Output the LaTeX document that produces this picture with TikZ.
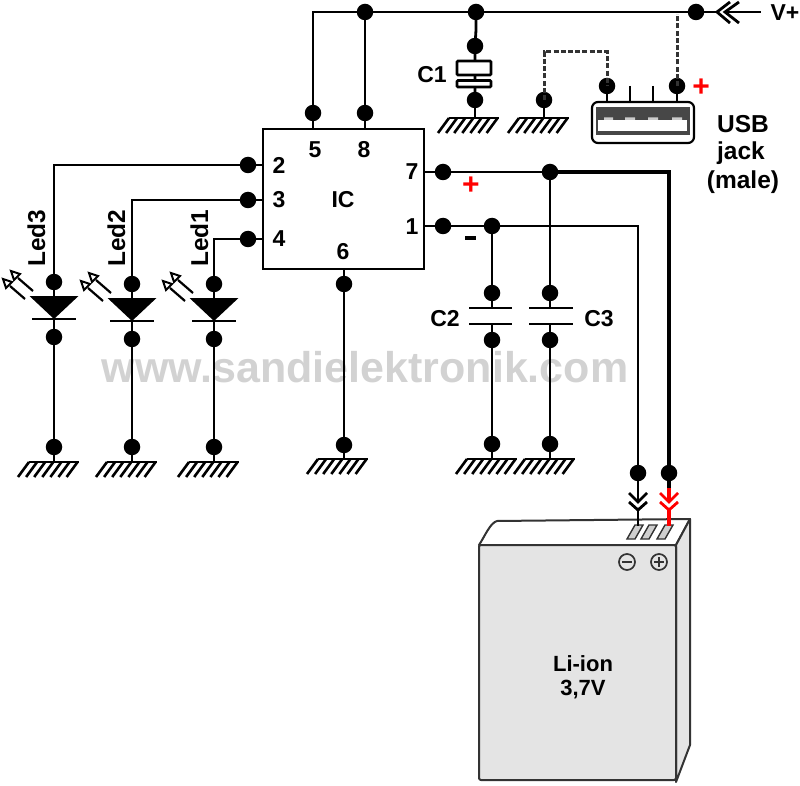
\documentclass[tikz,border=0pt]{standalone}
\usepackage{fontspec}
\setmainfont{Liberation Sans}
\usetikzlibrary{calc}
\definecolor{batt}{HTML}{E4E4E4}
\definecolor{slot}{HTML}{CFCFCF}
\definecolor{edge}{HTML}{333333}
\definecolor{wmark}{HTML}{D2D2D2}
\tikzset{
  wire/.style={line width=2.8pt,line join=miter},
  heavywire/.style={line width=3.2pt,line join=miter},
  dashwire/.style={line width=3pt,dash pattern=on 5pt off 2.2pt,draw=black!80},
  jdot/.style={circle,fill=black,draw=none,minimum size=16.5pt,inner sep=0pt},
  lab/.style={font=\fontsize{23}{26}\selectfont\bfseries,inner sep=0pt,align=center},
  biglab/.style={font=\fontsize{24.5}{28}\selectfont\bfseries,inner sep=0pt,align=center},
  batlab/.style={font=\fontsize{22}{25}\selectfont\bfseries,inner sep=0pt,align=center},
  pinlab/.style={font=\fontsize{23}{26}\selectfont\bfseries,inner sep=0pt},
  ledlab/.style={font=\fontsize{24.4}{28}\selectfont\bfseries,inner sep=0pt,rotate=90,anchor=base west},
  plate/.style={line width=2.9pt},
  chev/.style={line width=2.8pt},
  lightarrow/.style={line width=2.2pt},
  lighthead/.style={line width=2pt,fill=white,line join=miter},
  bat/.style={line width=2pt,draw=edge,line join=round},
  redsign/.style={text=red,font=\fontsize{30}{30}\selectfont\bfseries,inner sep=0pt},
}
\newcommand{\gndsym}[3]{% name, x, y
  \coordinate (#1) at (#2,#3);
  \draw[line width=2.8pt] ($(#1)+(-25,0)$) -- ($(#1)+(25,0)$);
  \foreach \k in {0,...,6} {
    \draw[line width=2.6pt] ($(#1)+(-25+8.1*\k,0)$) -- ++(-11,15);
  }
}
\newcommand{\ledsym}[4]{% name, x, triangle top y, bar y
  \path[fill=black] (#2-24.5,#3) -- (#2+24.5,#3) -- (#2,#4) -- cycle;
  \draw[plate] (#2-22,#4) -- (#2+22,#4);
  \coordinate (#1) at (#2,#3);
  \foreach \d in {0,8} {
    \draw[lightarrow] (#2-29+\d,#3+3-\d) -- (#2-44+\d,#3-10-\d);
    \draw[lighthead] (#2-51+\d,#3-17-\d) -- (#2-42+\d,#3-14-\d) -- (#2-48+\d,#3-8-\d) -- cycle;
  }
}
\begin{document}
\begin{tikzpicture}[x=1pt,y=-1pt]
\useasboundingbox (0,0) rectangle (800,786);

% Watermark (lies under everything else)
\node[inner sep=0pt,text=wmark,anchor=base,font=\fontsize{43}{46}\selectfont\bfseries] (wm) at (365,382) {www.sandielektronik.com};

% IC
\node[draw=black,line width=2.8pt,minimum width=161pt,minimum height=140pt,inner sep=0pt,fill=white] (ic) at (343.5,199) {};
\node[lab] (iclab) at (343,200) {IC};
\node[pinlab] (p5) at (315,150) {5};
\node[pinlab] (p8) at (364,150) {8};
\node[pinlab] (p2) at (279,165) {2};
\node[pinlab] (p3) at (279,200) {3};
\node[pinlab] (p4) at (279,239) {4};
\node[pinlab] (p7) at (412,172) {7};
\node[pinlab] (p1) at (412,227) {1};
\node[pinlab] (p6) at (343,252) {6};

% Dots
\foreach \n/\x/\y in {
  r8/365/12, rc/476/12, rv/696/12,
  d5/313/113, d8/365/113,
  d2/248/165, d3/248/200, d4/248/239,
  l3a/54/282, l3b/54/337, l3g/54/447,
  l2a/132/284, l2b/132/339, l2g/132/447,
  l1a/214/284, l1b/214/339, l1g/214/447,
  d6a/344/284, d6g/344/445,
  c1a/475/46, c1b/475/100, ug/544/100, u1/607/86, u4/677/86,
  d7/443/172, c3t/550/172, d1/443/226, c2t/492/226,
  c2a/492/293, c2b/492/340, c2g/492/444,
  c3a/550/293, c3b/550/340, c3g/550/444,
  bn/638/473, bp/669/473}
  \node[jdot] (\n) at (\x,\y) {};

\coordinate (railL) at (313,12);
\coordinate (vtip) at (717,12);
\coordinate (vend) at (761,12);
\coordinate (vin) at (725,12);

% Rail and supply
\draw[wire] (d5.center) -- (railL) -- (vtip);
\draw[wire] (r8.center) -- (d8.center);
\draw[wire] (d5.center) -- (313,129);
\draw[wire] (d8.center) -- (365,129);
\draw[wire] (vin) -- (vend);
\draw[chev] (730,2) -- (vtip) -- (730,23);
\draw[chev] (739,2) -- (vin) -- (739,23);
\node[lab] (vp) at (785,13) {V+};

% IC left wires
\draw[wire] (l3a.center) |- (d2.center) -- (263,165);
\draw[wire] (l2a.center) |- (d3.center) -- (263,200);
\draw[wire] (l1a.center) |- (d4.center) -- (263,239);
\draw[wire] (d6a.center) -- (344,269);

% LEDs
\draw[wire] (l3a.center) -- (l3b.center) -- (l3g.center);
\draw[wire] (l2a.center) -- (l2b.center) -- (l2g.center);
\draw[wire] (l1a.center) -- (l1b.center) -- (l1g.center);
\draw[wire] (d6a.center) -- (d6g.center);
\ledsym{led3}{54}{296}{319}
\ledsym{led2}{132}{298}{321}
\ledsym{led1}{214}{298}{321}
\node[ledlab] (t3) at (45,267) {Led3};
\node[ledlab] (t2) at (125,267) {Led2};
\node[ledlab] (t1) at (208,267) {Led1};

% Grounds
\gndsym{g1}{54}{462}
\gndsym{g2}{132}{462}
\gndsym{g3}{214}{462}
\gndsym{g4}{343}{459}
\gndsym{g5}{492}{459}
\gndsym{g6}{550}{459}
\gndsym{g7}{474}{118}
\gndsym{g8}{544}{118}
\draw[wire] (l3g.center) -- (g1);
\draw[wire] (l2g.center) -- (g2);
\draw[wire] (l1g.center) -- (g3);
\draw[wire] (d6g.center) -- (344,459);
\draw[wire] (c2g.center) -- (g5);
\draw[wire] (c3g.center) -- (g6);
\draw[wire] (c1b.center) -- (475,118);
\draw[wire] (ug.center) -- (g8);

% C1
\draw[wire] (rc.center) -- (476,30) -- (c1a.center) -- (c1b.center);
\draw[line width=2.6pt,fill=white,rounded corners=1pt] (457,61) rectangle (491,75);
\draw[line width=2.6pt,fill=white,rounded corners=1pt] (457,80.5) rectangle (491,87);
\node[lab] (c1l) at (432,75) {C1};

% USB
\draw[dashwire] (ug.center) |- (607,52) -- (u1.center);
\draw[dashwire] (u4.center) -- (677,14);
\draw[wire] (u1.center) -- (607,103);
\draw[wire] (u4.center) -- (677,103);
\coordinate (u2) at (630,86);
\coordinate (u3) at (653,86);
\draw[wire] (u2) -- (630,103);
\draw[wire] (u3) -- (653,103);
\node[draw=black,line width=2.2pt,rounded corners=6pt,fill=white,minimum width=102pt,minimum height=41pt,inner sep=0pt] (usb) at (643,122.5) {};
\path[fill=black!72] (596,107) rectangle (689.5,135);
\path[fill=white] (598,120) rectangle (687,131);
\path[fill=black!20] (604,117.5) rectangle (613,120) (625,117.5) rectangle (635,120) (648,117.5) rectangle (658,120) (672,117.5) rectangle (682,120);
\node[redsign] (plusu) at (701,88) {+};
\node[biglab] (usbl) at (743,124) {USB};
\node[biglab] (jack) at (741,153) {jack};
\node[biglab] (male) at (743,182) {(male)};

% Wires to battery
\draw[wire] (d7.center) -- (424,172);
\draw[wire] (d1.center) -- (424,226);
\draw[wire] (d7.center) -- (c3t.center);
\draw[heavywire] (c3t.center) -- (669,172) -- (bp.center);
\draw[wire] (d1.center) -- (638,226) -- (bn.center);
\draw[wire] (c3t.center) -- (c3a.center);
\draw[wire] (c2t.center) -- (c2a.center);
\draw[wire] (c2a.center) -- (492,308);
\draw[wire] (c3a.center) -- (550,308);
\draw[wire] (492,324) -- (c2b.center) -- (c2g.center);
\draw[wire] (550,324) -- (c3b.center) -- (c3g.center);
\draw[plate] (469,308) -- (512,308) (469,324) -- (512,324);
\draw[plate] (529,308) -- (573,308) (529,324) -- (573,324);
\node[lab] (c2l) at (445,319) {C2};
\node[lab] (c3l) at (599,319) {C3};
\node[redsign] (plusi) at (471,186) {+};
\path[fill=black] (465,236.5) rectangle (476,240);

% Battery
\path[fill=white,draw=edge,line width=2pt,line join=round] (479,545) .. controls (485,536) and (490,523) .. (497,521) -- (690,519) -- (676,545) -- cycle;
\path[fill=batt,draw=edge,line width=2pt,line join=round] (676,545) -- (690,519) -- (690,745) -- (676,782) -- cycle;
\draw[bat,fill=batt,rounded corners=2pt] (479,545) rectangle (676,780);
\foreach \a/\b in {627/635,641/649,657/665}
  \draw[line width=1.4pt,draw=edge,fill=slot] (\a,539) -- (\b,539) -- (\b+8,525) -- (\a+8,525) -- cycle;
\coordinate (bnp) at (638,526);
\coordinate (bpp) at (669,526);
\draw[wire] (bn.center) -- (638,501);
\draw[chev] (629,493) -- (638,502) -- (647,493);
\draw[chev] (629,502) -- (638,510) -- (647,502);
\draw[wire] (638,510) -- (bnp);
\draw[heavywire] (bp.center) -- (669,488);
\draw[heavywire,red] (669,488) -- (669,501);
\draw[chev,red] (660,493) -- (669,502) -- (678,493);
\draw[chev,red] (660,502) -- (669,510) -- (678,502);
\draw[heavywire,red] (669,510) -- (bpp);
\node[circle,draw=edge,line width=1.7pt,minimum size=16pt,inner sep=0pt] (minus) at (627,562) {};
\node[circle,draw=edge,line width=1.7pt,minimum size=16pt,inner sep=0pt] (plus) at (659,562) {};
\draw[line width=1.7pt,draw=edge] (622,562) -- (632,562);
\draw[line width=1.7pt,draw=edge] (654,562) -- (664,562) (659,557) -- (659,567);
\node[batlab] (li) at (583,664) {Li-ion};
\node[batlab] (v37) at (583,690) {3,7V};
\end{tikzpicture}
\end{document}
